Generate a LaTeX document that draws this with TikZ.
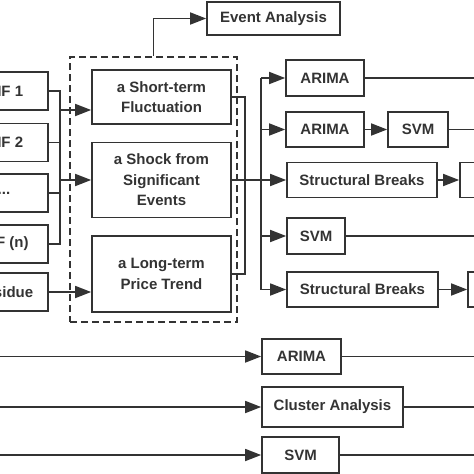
\documentclass[tikz,border=0pt]{standalone}
\usepackage{fontspec}
\setmainfont{Liberation Sans}
\usepackage{xcolor}
\usetikzlibrary{positioning,arrows.meta,fit}
\definecolor{ink}{HTML}{333333}

\begin{document}
\begin{tikzpicture}[x=1pt,y=-1pt,line width=1.7pt,color=ink,
    font=\fontsize{15}{20.5}\selectfont\bfseries,
    blk/.style={draw,inner sep=0pt,align=center,minimum height=#1},
    blk/.default=35pt,
    arr/.style={-{Triangle[length=16pt,width=12pt]}}]
            \useasboundingbox (0,0) rectangle (474,474);
            \clip (0,0) rectangle (474,474);
            % decomposition
            \node[blk=38pt,minimum width=88pt] (m1) at (4,91) {IMF 1};
            \node[blk=38pt,minimum width=88pt] (m2) at (4,142.5) {IMF 2};
            \node[blk=38pt,minimum width=88pt] (m3) at (4,193) {...};
            \node[blk=38pt,minimum width=88pt] (mn) at (4,244) {IMF (n)};
            \node[blk=38pt,minimum width=88pt] (res) at (4,292) {Residue};
            % components
            \node[blk=54pt,minimum width=139pt] (sf) at (161.5,97) {a Short-term\\Fluctuation};
            \node[blk=75pt,minimum width=139pt] (sh) at (161.5,180) {a Shock from\\Significant\\Events};
            \node[blk=76pt,minimum width=139pt] (lt) at (161.5,274) {a Long-term\\Price Trend};
            \node[draw,dash pattern=on 7pt off 4pt,inner sep=0pt,fit={(70,57) (237,322)}] (grp) {};
            \node[blk=33pt,minimum width=133pt] (ev) at (273.5,18.5) {Event Analysis};
            % models
            \node[blk=36pt,minimum width=78pt] (a1) at (325,78) {ARIMA};
            \node[blk,minimum width=78pt] (a2) at (325,129.5) {ARIMA};
            \node[blk,minimum width=60pt] (s1) at (418,129.5) {SVM};
            \node[blk,minimum width=150pt] (sb1) at (362,180) {Structural Breaks};
            \node[blk,minimum width=78pt] (x1) at (499,180) {ARIMA};
            \node[blk=36pt,minimum width=58pt] (s2) at (316,236) {SVM};
            \node[blk,minimum width=151pt] (sb2) at (362.5,289.5) {Structural Breaks};
            \node[blk,minimum width=78pt] (x2) at (507,289.5) {ARIMA};
            \node[blk,minimum width=79pt] (a3) at (301.5,356.5) {ARIMA};
            \node[blk=40pt,minimum width=141pt] (ca) at (332.5,407) {Cluster Analysis};
            \node[blk=36pt,minimum width=77pt] (s3) at (300.5,455) {SVM};
            % bus lines
            \coordinate (cl) at (60,0);
            \coordinate (cr) at (245,0);
            \coordinate (tr) at (261,0);
            \coordinate (le) at (-6,0);
            \coordinate (re) at (480,0);
            \coordinate (sfin) at ([yshift=-13pt]sf.west);
            \draw (m1.east) -| (cl |- mn.east) -- (mn.east);
            \draw (m2.east) -- (m2.east -| cl);
            \draw (m3.east) -- (m3.east -| cl);
            \draw[arr] (cl |- sfin) -- (sfin);
            \draw[arr] (cl |- sh.west) -- (sh.west);
            \draw[arr] (res.east) -- (res.east -| lt.west);
            \draw[arr] (grp.north) |- (ev.west); % to event analysis
            \draw (sf.east) -| (cr |- lt.east) -- (lt.east);
            \draw (sh.east) -- (tr |- sh.east);
            \draw (tr |- a1.west) -- (tr |- sb2.west);
            \foreach \n in {a1,a2,sb1,s2,sb2}
                \draw[arr] (tr |- \n.west) -- (\n.west);
            \draw[arr] (a2) -- (s1);
            \draw[arr] (sb1) -- (x1);
            \draw[arr] (sb2) -- (x2);
            \foreach \n in {a1,s1,s2}
                \draw (\n.east) -- (\n.east -| re);
            \foreach \n in {a3,ca,s3}{
                \draw[arr] (le |- \n.west) -- (\n.west);
                \draw (\n.east) -- (\n.east -| re);}
\end{tikzpicture}
\end{document}
